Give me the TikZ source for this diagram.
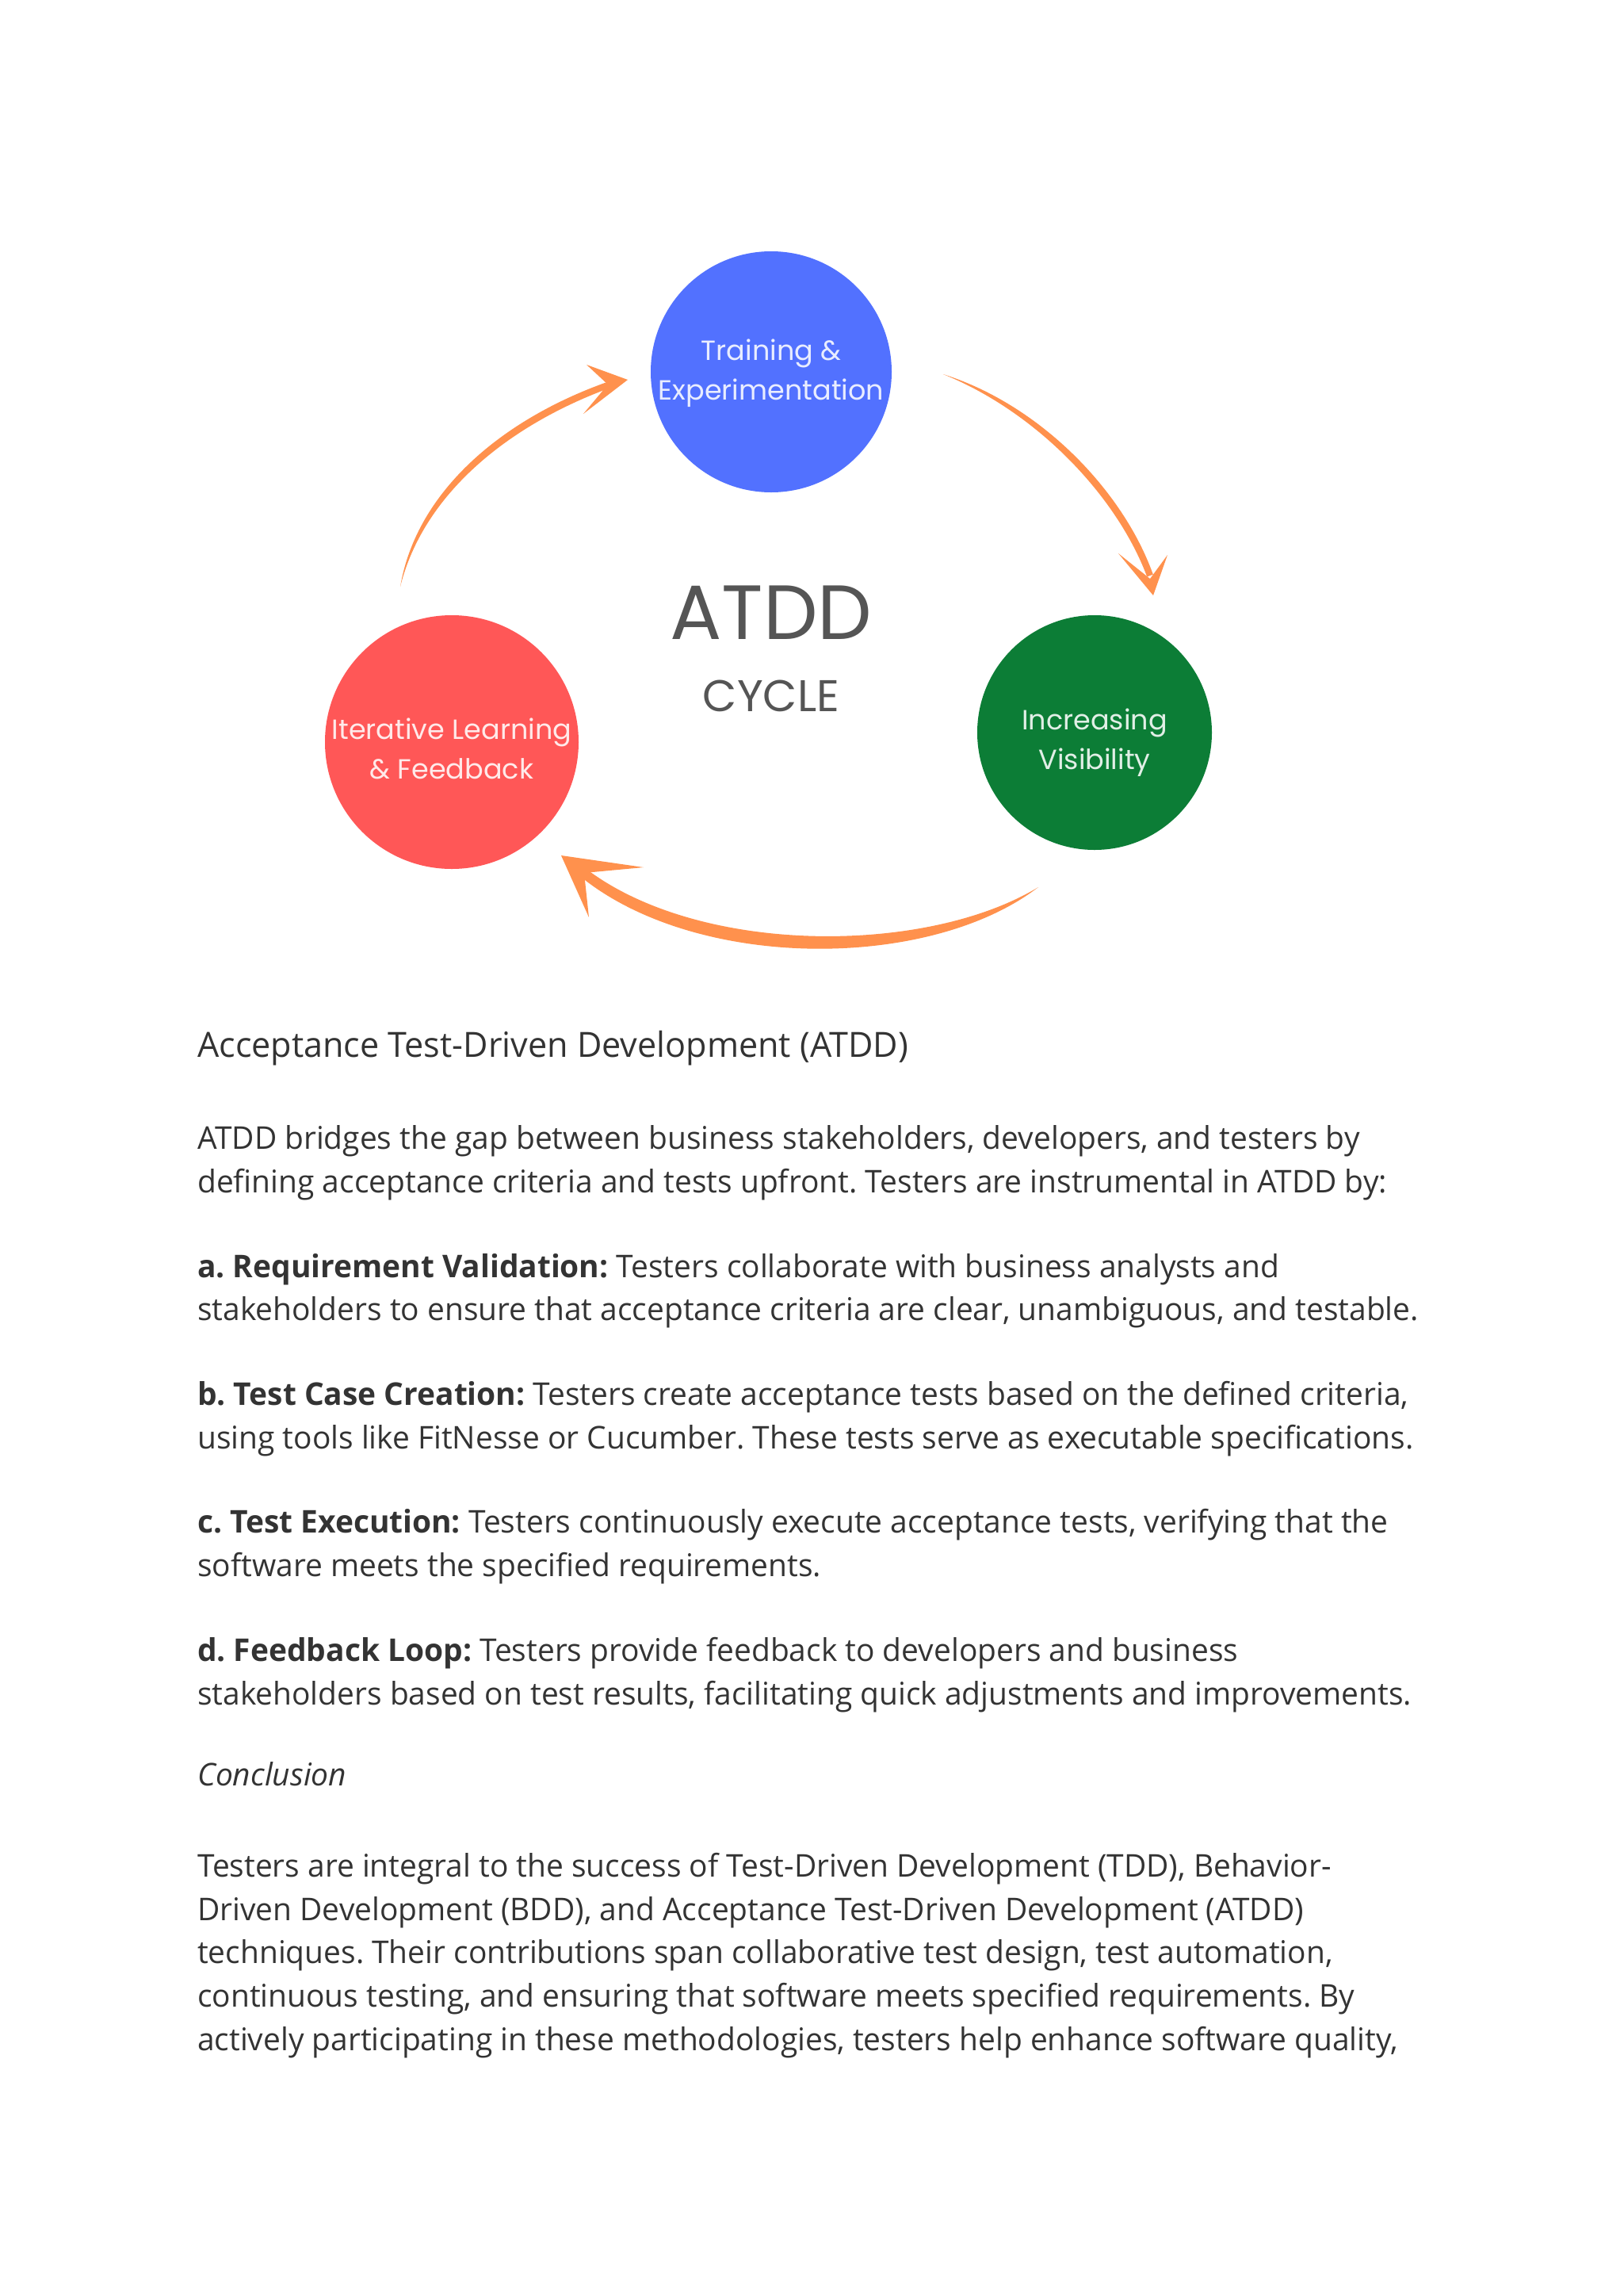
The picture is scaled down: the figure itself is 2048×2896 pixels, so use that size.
\documentclass[tikz,border=0pt]{standalone}
\usepackage{fontspec}
\setmainfont{Open Sans}[FakeStretch=0.985]
\newfontfamily\popfont{Poppins}
\frenchspacing
\definecolor{textgray}{HTML}{333333}
\definecolor{titlegray}{HTML}{555555}
\definecolor{cblue}{HTML}{5271FF}
\definecolor{cgreen}{HTML}{0C7D36}
\definecolor{cred}{HTML}{FF5757}
\definecolor{corange}{HTML}{FF914D}
\newcommand\bodyfont{\fontsize{39.5}{50}\selectfont}
\newcommand\headfont{\fontsize{43.8}{55}\selectfont}
\tikzset{
  txt/.style={anchor=base west, inner sep=0pt, text=textgray, font=\bodyfont},
  bubble/.style={circle, inner sep=0pt, draw=none},
  bubbletext/.style={align=center, inner sep=0pt, text=white, text opacity=0.88, font=\popfont\fontsize{35}{50}\selectfont},
  arrowbody/.style={fill=corange, draw=none}
}
\begin{document}
\begin{tikzpicture}[x=1pt,y=-1pt]
\useasboundingbox (0,0) rectangle (2048,2896);
\fill[white] (0,0) rectangle (2048,2896);

% circles
\node[bubble, fill=cblue, minimum size=304pt] (train) at (973,469) {};
\node[bubble, fill=cgreen, minimum size=296pt] (vis) at (1381,924) {};
\node[bubble, fill=cred, minimum size=320pt] (iter) at (570,936) {};

\node[bubbletext] (trainT) at ([yshift=-2pt]train.center) {Training \&\\Experimentation};
\node[bubbletext] (visT) at ([yshift=-13pt]vis.center) {Increasing\\Visibility};
\node[bubbletext] (iterT) at ([yshift=-8pt]iter.center) {Iterative Learning\\\& Feedback};

% centre title
\node[anchor=base, inner sep=0pt, text=titlegray, font=\popfont\fontsize{97}{110}\selectfont] (atdd) at (973,806) {ATDD};
\node[anchor=base, inner sep=0pt, text=titlegray, font=\popfont\fontsize{56}{60}\selectfont] (cycle) at (973,897) {CYCLE};

% arrow 1: Iterative -> Training
\coordinate (a1tail) at (505,740);
\coordinate (a1tip) at (792,479);
\fill[arrowbody] (a1tail) .. controls (525.8,617.3) and (637.6,525.6) .. (773.7,479.2)
  -- (776.3,486.8) .. controls (642.4,534.4) and (534.2,622.7) .. (a1tail) -- cycle;
\fill[arrowbody] (a1tip) -- (740,460) -- (767,485) -- (736,522) -- cycle;

% arrow 2: Training -> Increasing
\coordinate (a2tail) at (1190,472);
\coordinate (a2tip) at (1455,751);
\fill[arrowbody] (a2tail) .. controls (1307.2,519.2) and (1408.8,624.8) .. (1447.2,727.4)
  -- (1454.8,724.6) .. controls (1417.2,619.2) and (1312.8,510.8) .. (a2tail) -- cycle;
\fill[arrowbody] (a2tip) -- (1411,698) -- (1451,730) -- (1473,700) -- cycle;

% arrow 3: Increasing -> Iterative
\coordinate (a3tail) at (1310,1119);
\coordinate (a3tip) at (708,1079);
\fill[arrowbody] (a3tail) .. controls (1168,1205) and (882.6,1205.3) .. (738.7,1095.3)
  -- (731.3,1104.7) .. controls (877.4,1224.7) and (1172,1225) .. (a3tail) -- cycle;
\fill[arrowbody] (a3tip) -- (812,1094) -- (737,1101) -- (743,1157) -- cycle;

% text
\node[txt, font=\headfont] (h1) at (249,1333) {Acceptance Test-Driven Development (ATDD)};
\node[txt] (p1a) at (249,1449) {ATDD bridges the gap between business stakeholders, developers, and testers by};
\node[txt] (p1b) at (249,1504) {defining acceptance criteria and tests upfront. Testers are instrumental in ATDD by:};
\node[txt] (pa1) at (249,1611) {\textbf{a. Requirement Validation:} Testers collaborate with business analysts and};
\node[txt] (pa2) at (249,1665) {stakeholders to ensure that acceptance criteria are clear, unambiguous, and testable.};
\node[txt] (pb1) at (249,1772) {\textbf{b. Test Case Creation:} Testers create acceptance tests based on the defined criteria,};
\node[txt] (pb2) at (249,1827) {using tools like FitNesse or Cucumber. These tests serve as executable specifications.};
\node[txt] (pc1) at (249,1933) {\textbf{c. Test Execution:} Testers continuously execute acceptance tests, verifying that the};
\node[txt] (pc2) at (249,1988) {software meets the specified requirements.};
\node[txt] (pd1) at (249,2095) {\textbf{d. Feedback Loop:} Testers provide feedback to developers and business};
\node[txt] (pd2) at (249,2150) {stakeholders based on test results, facilitating quick adjustments and improvements.};
\node[txt] (concl) at (249,2252) {\textit{Conclusion}};
\node[txt] (q1) at (249,2367) {Testers are integral to the success of Test-Driven Development (TDD), Behavior-};
\node[txt] (q2) at (249,2422) {Driven Development (BDD), and Acceptance Test-Driven Development (ATDD)};
\node[txt] (q3) at (249,2476) {techniques. Their contributions span collaborative test design, test automation,};
\node[txt] (q4) at (249,2531) {continuous testing, and ensuring that software meets specified requirements. By};
\node[txt] (q5) at (249,2586) {actively participating in these methodologies, testers help enhance software quality,};
\end{tikzpicture}
\end{document}
